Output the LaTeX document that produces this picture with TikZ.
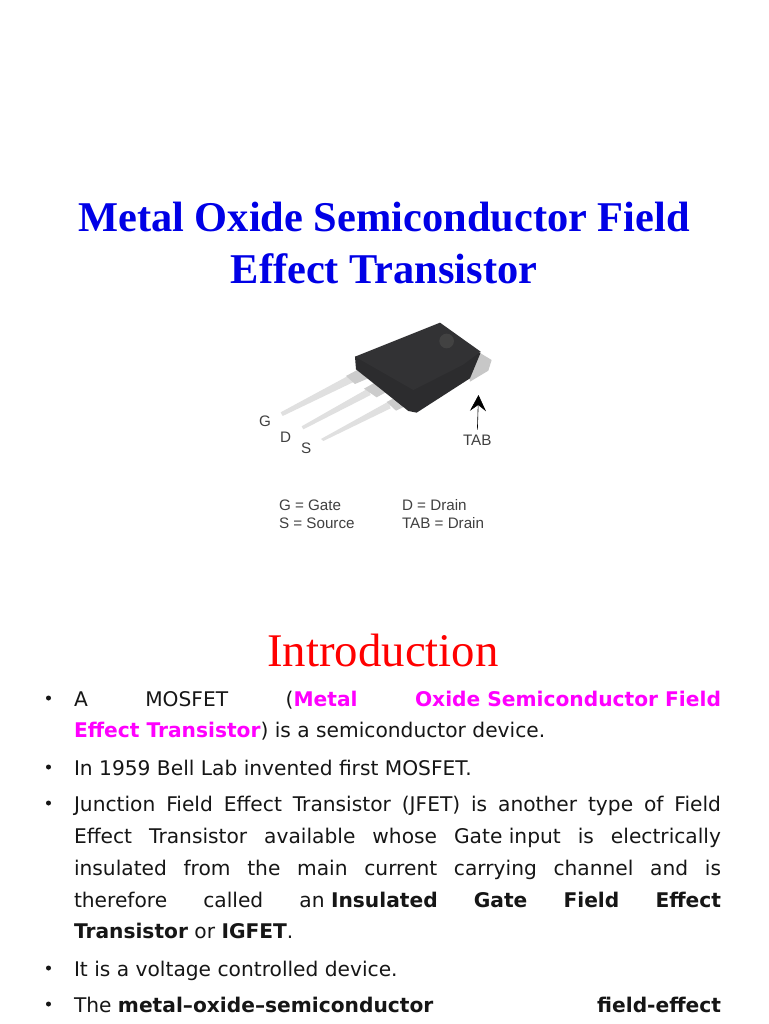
\documentclass[tikz,border=0pt]{standalone}
\usepackage{fontspec}
\setmainfont{DejaVu Sans}
\newfontfamily\serifface{Liberation Serif}
\newfontfamily\labelface{Liberation Sans}
\usetikzlibrary{arrows,arrows.meta,positioning}
\definecolor{titleblue}{RGB}{0,0,230}
\definecolor{pinkbold}{RGB}{255,0,255}
\definecolor{bodygrey}{RGB}{50,50,52}
\definecolor{frontgrey}{RGB}{44,44,46}
\definecolor{holegrey}{RGB}{66,66,66}
\definecolor{textgrey}{RGB}{22,22,22}
\newcommand{\fitline}[1]{\hbox to 647pt{#1}}
\begin{document}
\begin{tikzpicture}[x=1pt,y=-1pt,semithick]
  \tikzstyle{every node}=[inner sep=0pt,outer sep=0pt]
  \tikzstyle{heading}=[font=\serifface\bfseries\fontsize{42.4}{42}\selectfont,text=titleblue,anchor=base]
  \tikzstyle{intro}=[font=\serifface\fontsize{46.8}{47}\selectfont,text=red,anchor=base]
  \tikzstyle{textline}=[font=\fontsize{20.2}{20}\selectfont,text=textgrey,anchor=base west]
  \tikzstyle{bulletmark}=[circle,fill=textgrey,minimum size=5pt]
  \tikzstyle{piclabel}=[font=\labelface\fontsize{15.2}{15}\selectfont,text=black!75,anchor=base west]
  \tikzstyle{pinlead}=[fill=black!12]
  \tikzstyle{pinfoot}=[fill=black!20]

  \useasboundingbox (0,0) rectangle (768,1024);
  \fill[white] (0,0) rectangle (768,1024);

  \node[heading] (title1) at (384,232) {Metal Oxide Semiconductor Field};
  \node[heading] (title2) at (384,283) {Effect Transistor};

  % transistor
  \begin{scope}[shift={(240,310)},x=0.3333pt,y=-0.3333pt]
    \fill[pinlead] (122,307) -- (335,192) -- (345,214) -- (128,318) -- cycle;
    \fill[pinlead] (185,349) -- (385,235) -- (392,255) -- (190,358) -- cycle;
    \fill[pinlead] (243,387) -- (445,275) -- (452,295) -- (250,393) -- cycle;
    \fill[pinfoot] (318,198) -- (352,180) -- (385,205) -- (345,222) -- cycle;
    \fill[pinfoot] (372,236) -- (408,216) -- (450,240) -- (410,262) -- cycle;
    \fill[pinfoot] (440,276) -- (478,256) -- (510,282) -- (468,302) -- cycle;
    \fill[black!22] (685,185) -- (722,130) -- (755,150) -- (745,182) -- (690,215) -- cycle;
    \fill[frontgrey] (345,140) -- (348,178) -- (505,303) -- (530,308) -- (690,205) -- (722,128) -- cycle;
    \fill[bodygrey] (345,140) -- (600,38) -- (722,125) -- (668,165) -- (520,240) -- cycle;
    \fill[holegrey] (620,93) circle (22);
  \end{scope}
  \node[piclabel] (gpin) at (259,426) {G};
  \node[piclabel] (dpin) at (280,442) {D};
  \node[piclabel] (spin) at (301,453) {S};
  \node[piclabel] (tab) at (463,445) {TAB};
  \coordinate (tabtip) at (478.5,395);
  \draw[-{Stealth[length=16pt,width=16pt,inset=6pt]},semithick,shorten <=5pt] (tab.north) -- (tabtip);
  \node[piclabel] (gkey) at (279,510) {G = Gate};
  \node[piclabel] (dkey) at (402,510) {D = Drain};
  \node[piclabel] (skey) at (279,528) {S = Source};
  \node[piclabel] (tabkey) at (402,528) {TAB = Drain};

  \node[intro] (intro) at (383,666) {Introduction};

  \node[bulletmark] (b1) at (48.5,698) {};
  \node[textline] (l1) at (74,706) {\fitline{A\hfill MOSFET\hfill (\textcolor{pinkbold}{\bfseries Metal\hfill Oxide Semiconductor Field}}};
  \node[textline] (l2) at (74,737) {\textcolor{pinkbold}{\bfseries Effect Transistor}) is a semiconductor device.};
  \node[bulletmark] (b2) at (48.5,767) {};
  \node[textline] (l3) at (74,775) {In 1959 Bell Lab invented first MOSFET.};
  \node[bulletmark] (b3) at (48.5,803) {};
  \node[textline] (l4) at (74,811) {\fitline{Junction\hfill Field\hfill Effect\hfill Transistor\hfill (JFET)\hfill is\hfill another\hfill type\hfill of\hfill Field}};
  \node[textline] (l5) at (74,843) {\fitline{Effect\hfill Transistor\hfill available\hfill whose\hfill Gate input\hfill is\hfill electrically}};
  \node[textline] (l6) at (74,875) {\fitline{insulated\hfill from\hfill the\hfill main\hfill current\hfill carrying\hfill channel\hfill and\hfill is}};
  \node[textline] (l7) at (74,907) {\fitline{therefore\hfill called\hfill an \textbf{Insulated}\hfill \textbf{Gate}\hfill \textbf{Field}\hfill \textbf{Effect}}};
  \node[textline] (l8) at (74,938) {\textbf{Transistor} or \textbf{IGFET}.};
  \node[bulletmark] (b4) at (48.5,968) {};
  \node[textline] (l9) at (74,976) {It is a voltage controlled device.};
  \node[bulletmark] (b5) at (48.5,1004) {};
  \node[textline] (l10) at (74,1012) {\fitline{The \textbf{metal–oxide–semiconductor}\hfill \textbf{field-effect}}};
\end{tikzpicture}
\end{document}
